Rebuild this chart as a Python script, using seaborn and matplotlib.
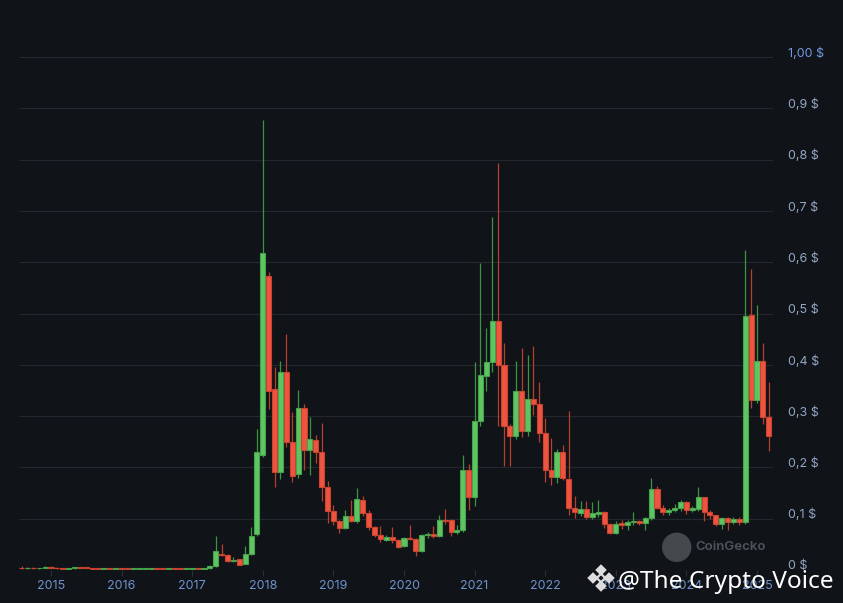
import numpy as np
import pandas as pd
import matplotlib
matplotlib.use("Agg")
import matplotlib.pyplot as plt
import matplotlib.patches as mpatches
from matplotlib.transforms import ScaledTranslation
import seaborn as sns

# ==========================================
# Monthly OHLC data (Aug 2014 - Mar 2025)
# ==========================================

first_month = "2014-08-01"

opens = [
    0.0045, 0.0030, 0.0045, 0.0030, 0.0035,
    0.0065, 0.0045, 0.0030, 0.0025, 0.0030, 0.0050, 0.0040, 0.0035, 0.0028, 0.0022, 0.0024, 0.0021,
    0.0022, 0.0020, 0.0018, 0.0019, 0.0020, 0.0022, 0.0035, 0.0025, 0.0022, 0.0038, 0.0025, 0.0022,
    0.0023, 0.0025, 0.0024, 0.0030, 0.0070, 0.0320, 0.0290, 0.0170, 0.0210, 0.0120, 0.0310, 0.0710,
    0.225, 0.574, 0.352, 0.191, 0.386, 0.249, 0.187, 0.316, 0.234, 0.253, 0.230, 0.161,
    0.115, 0.095, 0.082, 0.106, 0.095, 0.136, 0.111, 0.083, 0.068, 0.059, 0.064, 0.058,
    0.046, 0.062, 0.060, 0.038, 0.068, 0.070, 0.067, 0.098, 0.097, 0.074, 0.078, 0.195,
    0.143, 0.291, 0.378, 0.406, 0.486, 0.400, 0.281, 0.262, 0.349, 0.271, 0.333, 0.323,
    0.268, 0.195, 0.182, 0.230, 0.177, 0.120, 0.112, 0.118, 0.104, 0.110, 0.113, 0.089,
    0.073, 0.091, 0.088, 0.094, 0.096, 0.091, 0.101, 0.158, 0.121, 0.113, 0.116, 0.120,
    0.132, 0.117, 0.119, 0.142, 0.114, 0.107, 0.089, 0.101, 0.093, 0.100, 0.093, 0.497,
    0.331, 0.408, 0.298,
]

closes = [
    0.0030, 0.0045, 0.0030, 0.0035, 0.0065,
    0.0045, 0.0030, 0.0025, 0.0030, 0.0050, 0.0040, 0.0035, 0.0028, 0.0022, 0.0024, 0.0021, 0.0022,
    0.0020, 0.0018, 0.0019, 0.0020, 0.0022, 0.0035, 0.0025, 0.0022, 0.0038, 0.0025, 0.0022, 0.0023,
    0.0025, 0.0024, 0.0030, 0.0070, 0.0365, 0.0300, 0.0170, 0.0190, 0.0104, 0.0310, 0.0660, 0.2300,
    0.617, 0.348, 0.191, 0.386, 0.249, 0.184, 0.316, 0.233, 0.255, 0.230, 0.161, 0.115,
    0.095, 0.081, 0.106, 0.095, 0.138, 0.111, 0.083, 0.068, 0.060, 0.064, 0.058, 0.045,
    0.062, 0.060, 0.038, 0.068, 0.069, 0.067, 0.098, 0.096, 0.074, 0.078, 0.195, 0.143,
    0.291, 0.380, 0.406, 0.486, 0.400, 0.281, 0.261, 0.349, 0.271, 0.333, 0.323, 0.268,
    0.195, 0.182, 0.230, 0.180, 0.120, 0.114, 0.118, 0.104, 0.111, 0.113, 0.089, 0.073,
    0.090, 0.088, 0.094, 0.096, 0.091, 0.101, 0.158, 0.121, 0.113, 0.116, 0.120, 0.132,
    0.117, 0.120, 0.142, 0.114, 0.107, 0.089, 0.101, 0.093, 0.100, 0.093, 0.495, 0.331,
    0.408, 0.298, 0.262,
]

highs = [
    0.0075, 0.0050, 0.0050, 0.0040, 0.0075,
    0.0075, 0.0050, 0.0035, 0.0035, 0.0055, 0.0055, 0.0042, 0.0037, 0.0030, 0.0026, 0.0026, 0.0024,
    0.0023, 0.0021, 0.0020, 0.0021, 0.0023, 0.0037, 0.0036, 0.0026, 0.0040, 0.0040, 0.0026, 0.0024,
    0.0028, 0.0028, 0.0040, 0.0090, 0.0660, 0.0510, 0.0310, 0.0260, 0.0220, 0.0470, 0.0830, 0.2750,
    0.877, 0.580, 0.396, 0.408, 0.461, 0.308, 0.350, 0.324, 0.299, 0.264, 0.287, 0.174,
    0.127, 0.097, 0.117, 0.137, 0.160, 0.144, 0.116, 0.086, 0.086, 0.068, 0.084, 0.060,
    0.065, 0.087, 0.062, 0.070, 0.075, 0.086, 0.107, 0.119, 0.100, 0.088, 0.225, 0.207,
    0.406, 0.599, 0.471, 0.689, 0.793, 0.443, 0.285, 0.408, 0.432, 0.420, 0.4375, 0.366,
    0.297, 0.258, 0.236, 0.244, 0.310, 0.145, 0.135, 0.135, 0.133, 0.137, 0.115, 0.092,
    0.096, 0.098, 0.097, 0.114, 0.098, 0.104, 0.179, 0.163, 0.127, 0.120, 0.128, 0.137,
    0.135, 0.125, 0.161, 0.143, 0.117, 0.108, 0.104, 0.104, 0.103, 0.103, 0.623, 0.586,
    0.516, 0.443, 0.367,
]

lows = [
    0.0025, 0.0025, 0.0025, 0.0025, 0.0030,
    0.0040, 0.0025, 0.0020, 0.0020, 0.0025, 0.0035, 0.0030, 0.0025, 0.0020, 0.0020, 0.0019, 0.0019,
    0.0018, 0.0016, 0.0016, 0.0018, 0.0019, 0.0020, 0.0022, 0.0020, 0.0020, 0.0023, 0.0020, 0.0020,
    0.0021, 0.0021, 0.0022, 0.0028, 0.0065, 0.0280, 0.0160, 0.0150, 0.0100, 0.0110, 0.0290, 0.0660,
    0.220, 0.314, 0.161, 0.178, 0.240, 0.172, 0.180, 0.195, 0.186, 0.208, 0.135, 0.092,
    0.088, 0.073, 0.079, 0.093, 0.092, 0.105, 0.078, 0.064, 0.055, 0.056, 0.052, 0.043,
    0.044, 0.058, 0.028, 0.036, 0.063, 0.063, 0.064, 0.090, 0.067, 0.071, 0.075, 0.117,
    0.125, 0.281, 0.348, 0.385, 0.281, 0.203, 0.202, 0.255, 0.259, 0.262, 0.303, 0.249,
    0.172, 0.165, 0.169, 0.175, 0.107, 0.102, 0.105, 0.100, 0.100, 0.104, 0.082, 0.071,
    0.071, 0.080, 0.077, 0.088, 0.087, 0.078, 0.098, 0.118, 0.107, 0.108, 0.113, 0.115,
    0.110, 0.114, 0.115, 0.096, 0.100, 0.085, 0.080, 0.078, 0.090, 0.088, 0.090, 0.316,
    0.325, 0.284, 0.231,
]

year_ticks = list(range(2015, 2026))
price_ticks = [0.0, 0.1, 0.2, 0.3, 0.4, 0.5, 0.6, 0.7, 0.8, 0.9, 1.0]
price_labels = ["0 $", "0,1 $", "0,2 $", "0,3 $", "0,4 $", "0,5 $",
                "0,6 $", "0,7 $", "0,8 $", "0,9 $", "1,00 $"]

# ==========================================
# Build table
# ==========================================

df = pd.DataFrame({"Open": opens, "High": highs, "Low": lows, "Close": closes})
df["Date"] = pd.date_range(first_month, periods=len(df), freq="MS")
df["x"] = df["Date"].dt.year + (df["Date"].dt.month - 1) / 12
df["up"] = df["Close"] >= df["Open"]

# ==========================================
# Style
# ==========================================

bg = "#101318"
green, green_edge, green_wick = "#5fc462", "#46a24b", "#3f9444"
red, red_edge, red_wick = "#ef5440", "#c9432f", "#b4402f"

sns.set_theme(style="dark", rc={
    "axes.facecolor": bg,
    "figure.facecolor": bg,
    "axes.edgecolor": bg,
    "grid.color": "#23272e",
})
plt.rcParams["font.family"] = ["Inter", "DejaVu Sans"]

W, H = 843, 603
fig = plt.figure(figsize=(W / 100, H / 100), dpi=100)
ax = fig.add_axes([19 / W, 33 / H, (773 - 19) / W, 570 / H])

# ==========================================
# Candles
# ==========================================

month_w = 1 / 12
cols = np.where(df["up"], green, red)
edges = np.where(df["up"], green_edge, red_edge)
wicks = np.where(df["up"], green_wick, red_wick)

ax.vlines(df["x"], df["Low"], df["High"], colors=wicks, linewidth=0.9, zorder=2)

body_low = df[["Open", "Close"]].min(axis=1)
body_h = (df["Close"] - df["Open"]).abs().clip(lower=0.0015)
ax.bar(df["x"], body_h, bottom=body_low, width=month_w * 0.86,
       color=cols, edgecolor=edges, linewidth=0.8, zorder=3)

# ==========================================
# Axes
# ==========================================

ax.set_xlim(2014 + 7 / 12 - 0.037, 2025.2266)
ax.set_ylim(0, 570 / 513)

ax.set_yticks(price_ticks)
ax.set_yticklabels(price_labels)
ax.yaxis.tick_right()
ax.tick_params(axis="y", length=0, pad=11, labelsize=9, labelcolor="#93a6c4")
for lab in ax.get_yticklabels():
    lab.set_transform(lab.get_transform() + ScaledTranslation(0, 5 / 100, fig.dpi_scale_trans))
ax.get_yticklabels()[-1].set_color("#6f9be0")

ax.set_xticks(year_ticks)
ax.set_xticklabels([str(y) for y in year_ticks])
ax.tick_params(axis="x", length=4, width=0.8, color="#2b2f36", pad=3,
               labelsize=9, labelcolor="#6f93cc", bottom=True)

ax.grid(axis="y", color="#23272e", linewidth=0.8)
ax.grid(axis="x", visible=False)
for s in ax.spines.values():
    s.set_visible(False)

# ==========================================
# Watermarks
# ==========================================

def fx(px):
    return px / W

def fy(py):
    return 1 - py / H

fig.patches.append(mpatches.Ellipse((fx(676.7), fy(547.3)), 28 / W, 28 / H, color="#45484d",
                                    transform=fig.transFigure, zorder=5))
fig.text(fx(695), fy(547.5), "CoinGecko", color="#50535a", fontsize=9.5,
         fontweight="semibold", va="center", ha="left", family=["Inter", "DejaVu Sans"])

# little diamond logo
cx, cy, s = 601, 578, 4.2
for dx, dy, fill in [(0, -8, True), (0, 8, True), (-8, 0, True), (8, 0, True), (0, 0, False)]:
    pts = [(cx + dx, cy + dy - s), (cx + dx + s, cy + dy), (cx + dx, cy + dy + s), (cx + dx - s, cy + dy)]
    poly = mpatches.Polygon([(fx(px), fy(py)) for px, py in pts], closed=True,
                            transform=fig.transFigure, facecolor="#dcdcdc" if fill else "none",
                            edgecolor="#dcdcdc", linewidth=1.6, zorder=6)
    fig.patches.append(poly)

fig.text(fx(618), fy(588), "@The Crypto Voice", color="white", fontsize=17.6,
         va="baseline", ha="left", family=["Noto Sans", "DejaVu Sans"], zorder=7)

fig.savefig("out.png", dpi=100, facecolor=bg)
